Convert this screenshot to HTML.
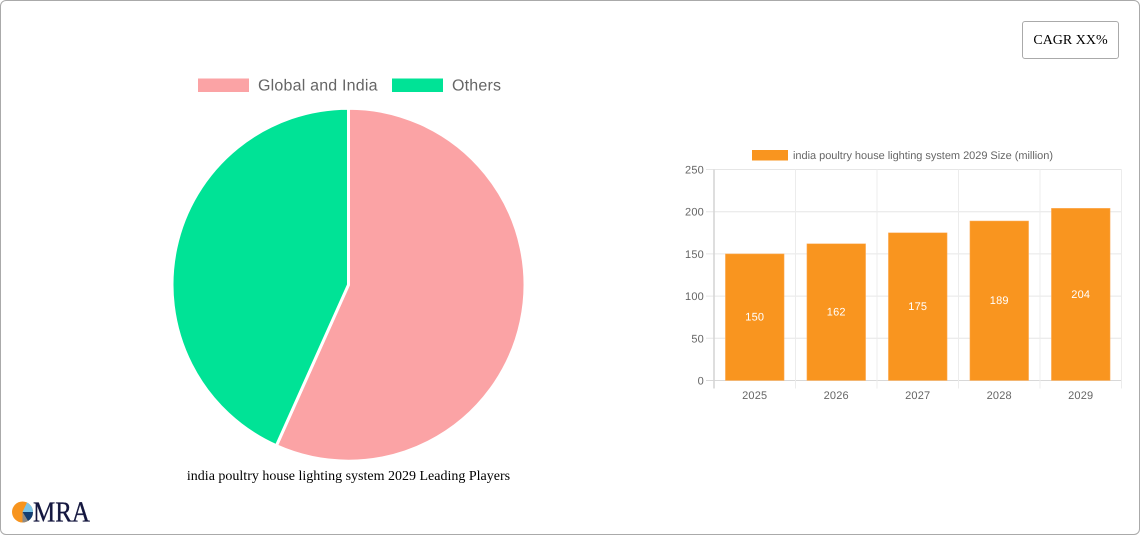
<!DOCTYPE html>
<html lang="en">
<head>
<meta charset="utf-8">
<title>india poultry house lighting system 2029</title>
<style>
html,body{margin:0;padding:0;background:#fff}
#frame{position:relative;width:1138px;height:533px;border:1px solid #aaa;border-radius:6px;overflow:hidden;background:#fff}
#stage{position:absolute;left:-1px;top:-1px;width:1140px;height:535px}
#cagr{position:absolute;left:1022px;top:21px;width:95px;height:36px;border:1px solid #aaa;border-radius:3px;font:14px "Liberation Serif",serif;line-height:37px;text-align:center;color:#000}
#pie-title{position:absolute;left:148.5px;top:468px;width:400px;text-align:center;font:14px "Liberation Serif",serif;line-height:18px;color:#000}
svg{position:absolute;left:0;top:0;text-rendering:geometricPrecision}
</style>
</head>
<body>
<div id="frame">
<div id="stage">
<svg id="chart" width="1140" height="535" viewBox="0 0 1140 535" font-family="'Liberation Sans',sans-serif"></svg>
<div id="cagr">CAGR XX%</div>
<div id="pie-title">india poultry house lighting system 2029 Leading Players</div>
<svg width="100" height="35" style="left:0;top:495px" viewBox="0 495 100 35">
<circle cx="22.5" cy="512" r="10.5" fill="#f7941e"></circle>
<path d="M22.5 512L27 502.5A10.5 10.5 0 0 1 33 512Z" fill="#7cc4e8"></path>
<path d="M22.5 512L33 512A10.5 10.5 0 0 1 28 521Z" fill="#123e73"></path>
<path d="M22.5 512L28 521A10.5 10.5 0 0 1 22.5 522.5Z" fill="#8a8a8a"></path>
<text x="33" y="521.5" font-family="'Liberation Serif',serif" font-size="29" fill="#14173f" stroke="#14173f" stroke-width="0.35" textLength="57" lengthAdjust="spacingAndGlyphs">MRA</text>
</svg>
</div>
</div>
<script>
const pieLabels = ['Global and India', 'Others'];
const pieValues = [56.7, 43.3];
const pieColors = ['#fba3a5', '#00e396'];
const barCategories = ['2025', '2026', '2027', '2028', '2029'];
const barValues = [150, 162, 175, 189, 204];
const yTickValues = [0, 50, 100, 150, 200, 250];
const barSeriesName = 'india poultry house lighting system 2029 Size (million)';

const svg = document.getElementById('chart');
const NS = 'http://www.w3.org/2000/svg';
function mk(tag, attrs, text) {
  const el = document.createElementNS(NS, tag);
  for (const k in attrs) el.setAttribute(k, attrs[k]);
  if (text !== undefined) el.textContent = text;
  svg.appendChild(el);
  return el;
}

/* pie */
const cx = 348.5, cy = 284.7, r = 176.5;
const total = pieValues.reduce((a, b) => a + b, 0);
let start = 0;
pieValues.forEach((v, i) => {
  const end = start + v / total * Math.PI * 2;
  const x0 = cx + r * Math.sin(start), y0 = cy - r * Math.cos(start);
  const x1 = cx + r * Math.sin(end), y1 = cy - r * Math.cos(end);
  const large = end - start > Math.PI ? 1 : 0;
  const p = mk('path', {d: `M${cx} ${cy}L${x0} ${y0}A${r} ${r} 0 ${large} 1 ${x1} ${y1}Z`, fill: pieColors[i], stroke: '#fff', 'stroke-width': 3, 'stroke-linejoin': 'miter'});
  
  
  start = end;
});

/* pie legend */
const legendSwatchX = [198, 392];
pieLabels.forEach((label, i) => {
  const s = mk('rect', {x: legendSwatchX[i], y: 78.5, width: 51, height: 13.5, fill: pieColors[i]});
  
  
  const t = mk('text', {x: legendSwatchX[i] + 60, y: 90.5, 'font-size': 16, 'letter-spacing': 0.2, fill: '#666'}, label);
  
  
});

/* bar chart axes */
const plotL = 714, plotR = 1121.5, plotT = 169.5, plotB = 380.5, yMax = 250;
const yPos = v => plotB - v / yMax * (plotB - plotT);
const band = (plotR - plotL) / barCategories.length;
const xPos = i => plotL + band * i;

yTickValues.forEach(v => {
  const y = yPos(v);
  const g = mk('line', {x1: plotL - 8, x2: plotR, y1: y, y2: y, stroke: v === 0 ? '#d8d8d8' : '#e6e6e6', 'stroke-width': 1});
  
  
  const t = mk('text', {x: plotL - 10, y: y + 4, 'text-anchor': 'end', 'font-size': 11, 'letter-spacing': 0.2, fill: '#666'}, String(v));
  
  
});
for (let i = 0; i <= barCategories.length; i++) {
  const x = xPos(i);
  const g = mk('line', {x1: x, x2: x, y1: plotT, y2: plotB + 8, stroke: i === 0 ? '#d4d4d4' : '#ececec', 'stroke-width': i === 0 ? 1.5 : 1});
  
  
}

/* bars */
const barW = band * 0.72;
barCategories.forEach((c, i) => {
  const v = barValues[i];
  const x = xPos(i) + (band - barW) / 2;
  const y = yPos(v);
  const b = mk('rect', {x: x, y: y, width: barW, height: plotB - y, fill: '#f9951f', stroke: '#fdb46a', 'stroke-width': 0.5});
  
  
  const vt = mk('text', {x: x + barW / 2, y: (y + plotB) / 2 + 3.5, 'text-anchor': 'middle', 'font-size': 11, 'letter-spacing': 0.2, fill: '#fff'}, String(v));
  
  
  const xt = mk('text', {x: xPos(i) + band / 2, y: 399, 'text-anchor': 'middle', 'font-size': 11, 'letter-spacing': 0.2, fill: '#666'}, c);
  
  
});

/* bar legend */
const ls = mk('rect', {x: 752, y: 150, width: 36, height: 10.5, fill: '#f9951f'});


const lt = mk('text', {x: 793, y: 159, 'font-size': 11, fill: '#666', textLength: 260}, barSeriesName);


</script>
</body>
</html>
